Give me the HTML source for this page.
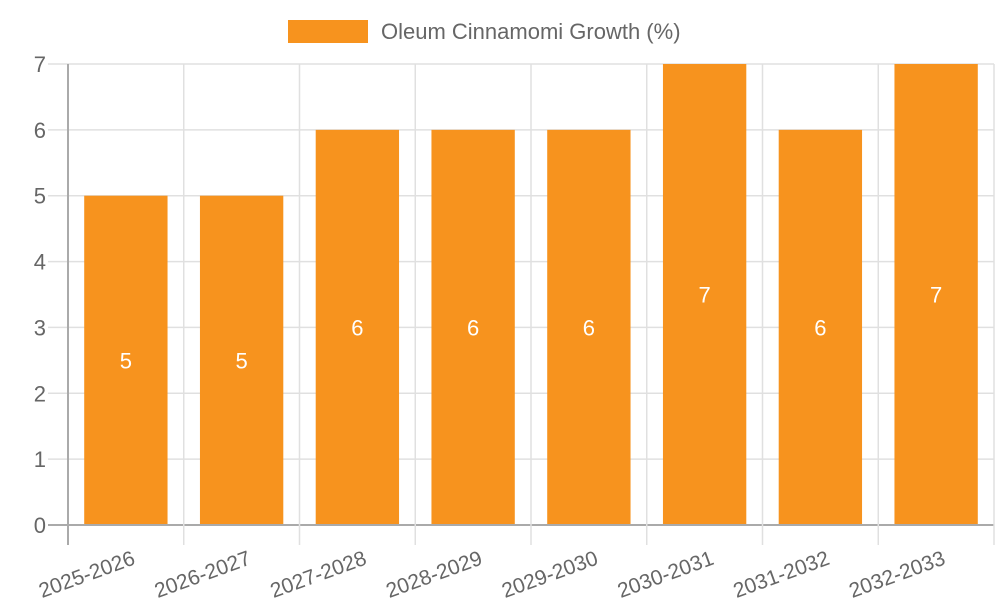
<!DOCTYPE html>
<html><head><meta charset="utf-8"><style>
body{margin:0;background:#fff}
svg{display:block;font-family:"Liberation Sans",sans-serif}
</style></head><body>
<svg id="chart" width="1000" height="600" viewBox="0 0 1000 600">
<g id="legend">
<rect x="288" y="20" width="80" height="23" fill="#f7931e"/>
<text x="381" y="39" font-size="22" fill="#666">Oleum Cinnamomi Growth (%)</text>
</g>
<g id="grid"></g><g id="bars"></g><g id="labels"></g>
</svg>
<script>
const categories=["2025-2026","2026-2027","2027-2028","2028-2029","2029-2030","2030-2031","2031-2032","2032-2033"];
const values=[5,5,6,6,6,7,6,7];
const yTicks=[0,1,2,3,4,5,6,7];
const NS="http://www.w3.org/2000/svg";
const L=68,R=994,T=64,B=525,yMax=7;
const band=(R-L)/categories.length;
const x=i=>L+i*band;
const y=v=>B-(v/yMax)*(B-T);
function mk(tag,attrs,parent,txt){const e=document.createElementNS(NS,tag);for(const k in attrs)e.setAttribute(k,attrs[k]);if(txt!==undefined)e.textContent=txt;document.getElementById(parent).appendChild(e);return e;}
yTicks.forEach(t=>{
 const g=mk('line',{x1:48,x2:R,y1:y(t),y2:y(t),stroke:t===0?'#aaa':'#e0e0e0','stroke-width':t===0?2:1.5},'grid');
 
 
 const tl=mk('text',{x:46,y:y(t)+8,'text-anchor':'end','font-size':22,fill:'#666'},'labels',t);
 
 
});
for(let i=0;i<=categories.length;i++){
 const g=mk('line',{x1:x(i),x2:x(i),y1:T,y2:545,stroke:i===0?'#aaa':'#e0e0e0','stroke-width':i===0?2:1.5},'grid');
 
 
}
categories.forEach((c,i)=>{
 const cx=x(i)+band/2,bw=band*0.72;
 const r=mk('rect',{x:cx-bw/2,y:y(values[i]),width:bw,height:B-1-y(values[i]),fill:'#f7931e'},'bars');
 
 
 const v=mk('text',{x:cx,y:(y(values[i])+B)/2+8,'text-anchor':'middle','font-size':22,fill:'#fff'},'labels',values[i]);
 
 
 const tl=mk('text',{x:cx+4,y:546,'text-anchor':'end','font-size':21,fill:'#666',transform:`rotate(-20 ${cx+4} 546)`,dy:'0.9em'},'labels',c);
 
 
});
</script>
</body></html>
